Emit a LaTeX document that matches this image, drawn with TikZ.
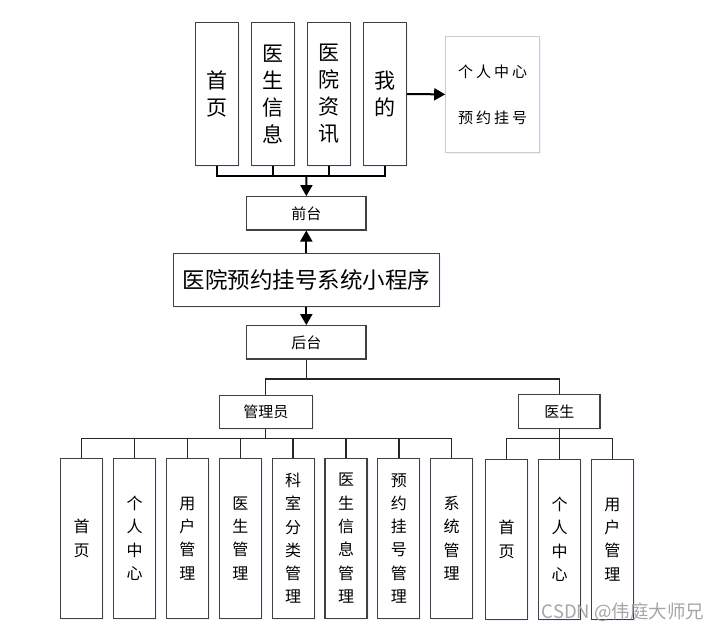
\documentclass[tikz,border=0pt]{standalone}
\usepackage{fontspec}
\setmainfont{Noto Sans CJK SC}
\usetikzlibrary{arrows.meta,shadows}
\def\gap{\kern3pt}
\tikzset{
  box/.style={draw=black!75,line width=1.1pt,fill=white,inner sep=0pt,align=center,
    drop shadow={shadow xshift=1.5pt,shadow yshift=-1.5pt,opacity=.35,fill=blue!15}},
  tallbox/.style={box,minimum width=43pt,minimum height=143pt,font=\fontsize{21}{27}\selectfont},
  leafbox/.style={box,minimum width=42pt,minimum height=160pt,font=\fontsize{16}{23.3}\selectfont},
  midbox/.style={box,minimum height=33.3pt,font=\fontsize{15}{18}\selectfont},
  link/.style={line width=1.3pt,black!85},
  bus/.style={line width=2pt},
  arr/.style={line width=2pt,-{Triangle[length=11pt,width=12pt]}}
}

\begin{document}
\begin{tikzpicture}[x=1pt,y=-1pt]
	\useasboundingbox (0,0) rectangle (725,632);
	\node[tallbox] (tb1) at (217,94) {首\\页};
	\node[tallbox] (tb2) at (273,94) {医\\生\\信\\息};
	\node[tallbox] (tb3) at (329,94) {医\\院\\资\\讯};
	\node[tallbox] (tb4) at (385,94) {我\\的};
	\node[box,draw=black!20,line width=1pt,minimum width=93.6pt,minimum height=116.7pt,
		font=\fontsize{15}{46}\selectfont] (mine) at (492.5,94.4) {个\gap 人\gap 中\gap 心\\预\gap 约\gap 挂\gap 号};
	\node[midbox,minimum width=119.3pt] (qt) at (306.3,213.3) {前台};
	\node[box,minimum width=266pt,minimum height=52.7pt,font=\fontsize{22.5}{28}\selectfont] (title) at (306.3,279.7) {医院预约挂号系统小程序};
	\node[midbox,minimum width=119.3pt] (ht) at (306.3,342.3) {后台};
	\node[midbox,minimum width=93pt] (gly) at (265.8,411.7) {管理员};
	\node[midbox,minimum width=81.3pt] (ys) at (559.3,411.5) {医生};
	\foreach \t [count=\i] in {{首\\页},{个\\人\\中\\心},{用\\户\\管\\理},{医\\生\\管\\理},
		{科\\室\\分\\类\\管\\理},{医\\生\\信\\息\\管\\理},{预\\约\\挂\\号\\管\\理},{系\\统\\管\\理}}
		\node[leafbox] (a\i) at ({81.7+(\i-1)*52.86},538.3) {\t};
	\foreach \t [count=\i] in {{首\\页},{个\\人\\中\\心},{用\\户\\管\\理}}
		\node[leafbox] (d\i) at ({506.7+(\i-1)*52.8},539.3) {\t};

	\coordinate (b0) at (306.5,176);
	\coordinate (b1) at (0,379);
	\coordinate (b2) at (0,438.3);
	\draw[bus] (tb1.south) -- (tb1.south |- b0) -- (tb4.south |- b0) -- (tb4.south);
	\draw[bus] (tb2.south) -- (tb2.south |- b0);
	\draw[bus] (tb3.south) -- (tb3.south |- b0);
	\draw[arr] (b0) -- (qt.north);
	\draw[arr] (tb4.east) -- (mine.west);
	\draw[arr] (title.north) -- (qt.south);
	\draw[arr] (title.south) -- (ht.north);

	\draw[link] (ht.south) -- (ht.south |- b1);
	\draw[link] (gly.north) -- (gly.north |- b1) -- (ys.north |- b1) -- (ys.north);
	\draw[link] (gly.south) -- (gly.south |- b2);
	\draw[link] (a1.north |- b2) -- (a8.north |- b2);
	\foreach \i in {1,...,8}
		\draw[link] (a\i.north) -- (a\i.north |- b2);
	\draw[link] (ys.south) -- (ys.south |- b2);
	\draw[link] (d1.north |- b2) -- (d3.north |- b2);
	\foreach \i in {1,2,3}
		\draw[link] (d\i.north) -- (d\i.north |- b2);

	\node[text=black!35,font=\fontsize{18.5}{20}\selectfont,inner sep=0pt] (wm) at (623,612) {CSDN @伟庭大师兄};
\end{tikzpicture}
\end{document}
